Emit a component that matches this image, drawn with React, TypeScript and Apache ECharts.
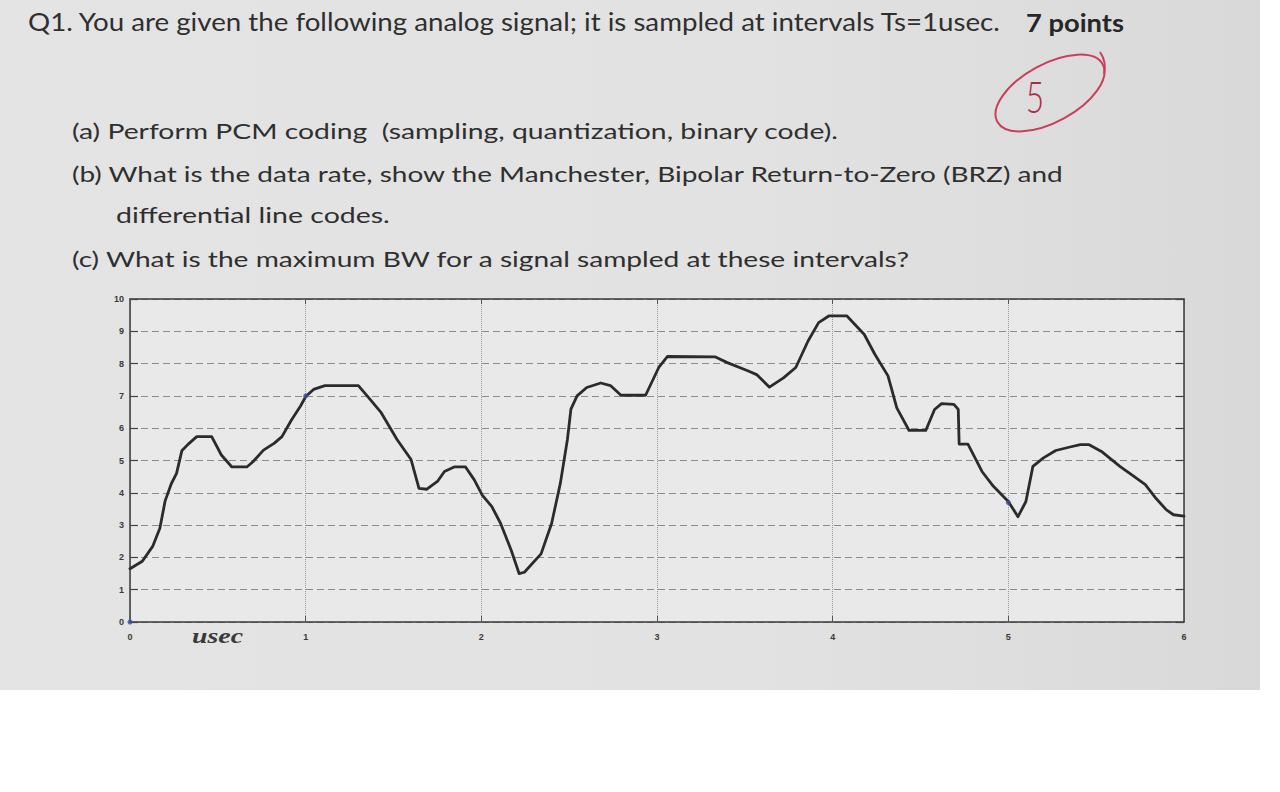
import React, { useEffect, useRef } from "react";
import * as echarts from "echarts";

// ---- data ----
const timeUs = [
  0, 0.07, 0.13, 0.17, 0.2, 0.235, 0.265, 0.295, 0.33, 0.38, 0.465, 0.52, 0.58, 0.665, 0.7, 0.76, 0.82, 0.865,
  0.92, 0.97, 1.0, 1.045, 1.11, 1.3, 1.35, 1.43, 1.52, 1.6, 1.645, 1.69, 1.75, 1.79, 1.845, 1.91, 1.96, 2.005,
  2.06, 2.11, 2.17, 2.215, 2.245, 2.34, 2.4, 2.45, 2.49, 2.51, 2.545, 2.6, 2.68, 2.735, 2.795, 2.935, 3.01, 3.06,
  3.33, 3.4, 3.52, 3.57, 3.64, 3.72, 3.79, 3.86, 3.92, 3.98, 4.08, 4.18, 4.24, 4.315, 4.365, 4.435, 4.53, 4.58,
  4.62, 4.69, 4.715, 4.72, 4.77, 4.85, 4.915, 5.0, 5.055, 5.1, 5.14, 5.2, 5.27, 5.345, 5.41, 5.46, 5.53, 5.635,
  5.715, 5.78, 5.84, 5.9, 5.94, 6.0,
];
const amplitude = [
  1.65, 1.88, 2.35, 2.9, 3.75, 4.28, 4.6, 5.3, 5.5, 5.74, 5.74, 5.17, 4.8, 4.8, 4.96, 5.32, 5.53, 5.74,
  6.26, 6.68, 6.98, 7.2, 7.32, 7.32, 7.0, 6.48, 5.65, 5.03, 4.14, 4.11, 4.35, 4.66, 4.8, 4.8, 4.4, 3.93,
  3.57, 3.05, 2.22, 1.5, 1.54, 2.11, 3.05, 4.3, 5.65, 6.59, 7.0, 7.26, 7.4, 7.32, 7.02, 7.02, 7.88, 8.22,
  8.21, 8.03, 7.77, 7.65, 7.27, 7.56, 7.88, 8.7, 9.27, 9.48, 9.48, 8.9, 8.29, 7.62, 6.63, 5.93, 5.93, 6.58,
  6.76, 6.74, 6.58, 5.51, 5.51, 4.66, 4.2, 3.73, 3.26, 3.73, 4.82, 5.08, 5.31, 5.41, 5.49, 5.49, 5.28, 4.82,
  4.51, 4.25, 3.83, 3.47, 3.32, 3.28,
];
const markX = [0, 1, 5];
const markY = [0, 7, 3.7];

const xTickLabels = ["0", "1", "2", "3", "4", "5", "6"];
const yTickLabels = ["0", "1", "2", "3", "4", "5", "6", "7", "8", "9", "10"];

const titleText = "Q1. You are given the following analog signal; it is sampled at intervals Ts=1usec.";
const pointsText = "7 points";
const questionLines = [
  "(a) Perform PCM coding  (sampling, quantization, binary code).",
  "(b) What is the data rate, show the Manchester, Bipolar Return-to-Zero (BRZ) and",
  "differential line codes.",
  "(c) What is the maximum BW for a signal sampled at these intervals?",
];
const gradeText = "5";
const axisUnitText = "usec";

// ---- helpers ----
let measureCtx: CanvasRenderingContext2D | null = null;
function measure(text: string, font: string): number {
  if (!measureCtx) measureCtx = document.createElement("canvas").getContext("2d");
  measureCtx!.font = font;
  return measureCtx!.measureText(text).width;
}

function fittedText(
  text: string,
  left: number,
  right: number,
  cy: number,
  fontSize: number,
  family: string,
  weight: string | number,
  fill: string,
  fontStyle = "normal"
) {
  const font = `${fontStyle} ${weight} ${fontSize}px ${family}`;
  const w = measure(text, font);
  const sx = w > 0 ? (right - left) / w : 1;
  return {
    type: "text",
    x: left,
    y: cy,
    scaleX: sx,
    z: 20,
    style: {
      text,
      fontSize,
      fontFamily: family,
      fontWeight: weight,
      fontStyle,
      fill,
      align: "left",
      verticalAlign: "middle",
    },
  };
}

export default function App() {
  const ref = useRef<HTMLDivElement>(null);

  useEffect(() => {
    if (!ref.current) return;
    const chart = echarts.init(ref.current, null, { renderer: "svg" });
    const lineData = timeUs.map((t, i) => [t, amplitude[i]]);
    const markData = markX.map((t, i) => [t, markY[i]]);
    const textFamily = "Lato, 'Open Sans', sans-serif";
    const ink = "#2f2f2f";

    const option: any = {
      animation: false,
      backgroundColor: "#ffffff",
      grid: {
        left: 130,
        right: 96,
        top: 299,
        bottom: 170,
        show: true,
        backgroundColor: "#e9e9e9",
        borderWidth: 0,
      },
      xAxis: [
        {
          type: "value",
          min: 0,
          max: 6,
          interval: 1,
          position: "bottom",
          axisLine: { show: true, onZero: false, lineStyle: { color: "#3a3a3a", width: 1.5 } },
          axisTick: { show: true, inside: true, length: 6, lineStyle: { color: "#555" } },
          axisLabel: {
            margin: 10,
            fontSize: 9,
            fontWeight: "bold",
            color: "#3a3a3a",
            fontFamily: "'Liberation Sans', sans-serif",
            formatter: (v: number) => xTickLabels[Math.round(v)] ?? "",
          },
          splitLine: { show: true, lineStyle: { color: "#9a9a9a", type: "dotted", width: 1 } },
        },
        {
          type: "value",
          min: 0,
          max: 6,
          interval: 1,
          position: "top",
          axisLine: { show: true, onZero: false, lineStyle: { color: "#3a3a3a", width: 1.5 } },
          axisTick: { show: true, inside: true, length: 5, lineStyle: { color: "#555" } },
          axisLabel: { show: false },
          splitLine: { show: false },
        },
      ],
      yAxis: [
        {
          type: "value",
          min: 0,
          max: 10,
          interval: 1,
          position: "left",
          axisLine: { show: true, onZero: false, lineStyle: { color: "#3a3a3a", width: 1.5 } },
          axisTick: { show: true, inside: true, length: 8, lineStyle: { color: "#444", width: 1.2 } },
          axisLabel: {
            margin: 6,
            fontSize: 9,
            fontWeight: "bold",
            color: "#3a3a3a",
            fontFamily: "'Liberation Sans', sans-serif",
            formatter: (v: number) => yTickLabels[Math.round(v)] ?? "",
          },
          splitLine: { show: true, lineStyle: { color: "#8c8c8c", type: [7, 4], width: 1 } },
        },
        {
          type: "value",
          min: 0,
          max: 10,
          interval: 1,
          position: "right",
          axisLine: { show: true, onZero: false, lineStyle: { color: "#3a3a3a", width: 1.5 } },
          axisTick: { show: true, inside: true, length: 8, lineStyle: { color: "#444", width: 1.2 } },
          axisLabel: { show: false },
          splitLine: { show: false },
        },
      ],
      series: [
        {
          type: "line",
          xAxisIndex: 0,
          yAxisIndex: 0,
          data: lineData,
          showSymbol: false,
          symbol: "none",
          lineStyle: { color: "#2b2b2b", width: 2.8, join: "round", cap: "round" },
          z: 5,
        },
        {
          type: "scatter",
          xAxisIndex: 0,
          yAxisIndex: 0,
          data: markData,
          symbol: "circle",
          symbolSize: 5,
          itemStyle: { color: "#3d4f9e", opacity: 0.8 },
          z: 6,
        },
      ],
      graphic: [
        {
          type: "rect",
          z: -10,
          shape: { x: 0, y: 0, width: 1260, height: 690 },
          style: {
            fill: new echarts.graphic.LinearGradient(0, 0, 1, 0, [
              { offset: 0, color: "#e4e4e4" },
              { offset: 0.6, color: "#e2e2e2" },
              { offset: 1, color: "#d9d9d9" },
            ]),
          },
        },
        fittedText(titleText, 28, 1002, 22, 25, textFamily, "normal", ink),
        fittedText(pointsText, 1026, 1124, 22, 25, textFamily, "bold", "#262626"),
        fittedText(questionLines[0], 72, 839, 131, 21, textFamily, "normal", ink),
        fittedText(questionLines[1], 72, 1065, 174, 21, textFamily, "normal", ink),
        fittedText(questionLines[2], 116, 390, 215, 21, textFamily, "normal", ink),
        fittedText(questionLines[3], 72, 911, 259, 21, textFamily, "normal", ink),
        fittedText(axisUnitText, 192, 243, 636, 20, "'Liberation Serif', serif", "bold", "#3a3a3a", "italic"),
        {
          type: "ellipse",
          z: 20,
          x: 1050,
          y: 93,
          rotation: 0.5,
          shape: { cx: 0, cy: 0, rx: 60, ry: 29 },
          style: { fill: "none", stroke: "#c8405a", lineWidth: 2 },
        },
        {
          type: "bezierCurve",
          z: 20,
          shape: { x1: 1104, y1: 74, cpx1: 1107, cpy1: 62, x2: 1100, y2: 52 },
          style: { fill: "none", stroke: "#c8405a", lineWidth: 2 },
        },
        {
          type: "text",
          z: 20,
          x: 1035,
          y: 96,
          scaleX: 0.72,
          style: {
            text: gradeText,
            fontSize: 44,
            fontFamily: "Lato, sans-serif",
            fontWeight: 300,
            fill: "#b02a45",
            align: "center",
            verticalAlign: "middle",
          },
        },
      ],
    };

    chart.setOption(option);
    return () => chart.dispose();
  }, []);

  return (
    <div
      ref={ref}
      style={{ position: "absolute", left: 0, top: 0, width: 1280, height: 792 }}
    />
  );
}
